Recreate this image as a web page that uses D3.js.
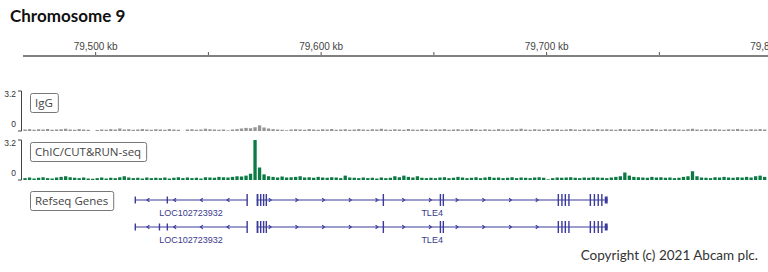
<!DOCTYPE html>
<html>
<head>
<meta charset="utf-8">
<script src="https://cdn.jsdelivr.net/npm/d3@7"></script>
<style>
  body { margin: 0; background: #fff; }
  svg { display: block; }
</style>
</head>
<body>
<div id="view"></div>
<script>
// genomic window shown (kb) and the coverage bin size
const viewStart = 79468;
const viewEnd = 79798.4;
const binKb = 2;

const majorTicks = [79500, 79600, 79700, 79800];
const minorTicks = [79550, 79650, 79750];

const trackNames = ["IgG", "ChIC/CUT&RUN-seq"];
const dataRange = [0, 3.2];

// coverage per 2 kb bin, starting at viewStart
const igg = [
  0.12,0.15,0.1,0.14,0.12,0.16,0.1,0.12,0.14,0.18,0.12,0.1,0.15,0.12,0.1,
  0,0.08,0.12,0.1,0.15,0.12,0.2,0.12,0.14,0.1,0.12,0.16,0.12,0.1,0.14,
  0.12,0.1,0.15,0.12,0.1,0,0.12,0.14,0.1,0.12,0.18,0.14,0.12,0.1,0.12,
  0.05,0.12,0.15,0.2,0.25,0.22,0.3,0.45,0.28,0.2,0.15,0.12,0.1,0.06,0.12,
  0.14,0.12,0.1,0.15,0.12,0.1,0.14,0.12,0.16,0.1,0.12,0.14,0.1,0.12,0.15,
  0.12,0.1,0.14,0.12,0.18,0.12,0.1,0.14,0.12,0.1,0.16,0.12,0.1,0.14,0.12,
  0.1,0.14,0.12,0.15,0.1,0.12,0.14,0.1,0.12,0.16,0.12,0.1,0.14,0.12,0.1,
  0.15,0.12,0.1,0.14,0.12,0.18,0.12,0.1,0.14,0.12,0.1,0.15,0.12,0.14,0.1,
  0.12,0.16,0.12,0.1,0.14,0.12,0.1,0.15,0.12,0.14,0.12,0.1,0.16,0.12,0.14,
  0.12,0.1,0.14,0.12,0.16,0.12,0.1,0.14,0.12,0.15,0.12,0.1,0.14,0.18,0.12,
  0.1,0.14,0.12,0.15,0.12,0.1,0.14,0.12,0.16,0.12,0.1,0.14,0.12,0.15,0.12
];
const chic = [
  0.15,0.2,0.12,0.18,0.22,0.15,0.12,0.2,0.25,0.3,0.22,0.18,0.15,0.2,0.12,
  0.1,0.15,0.2,0.12,0.18,0.15,0.22,0.3,0.2,0.15,0.18,0.12,0.2,0.15,0.18,
  0.15,0.2,0.12,0.18,0.22,0.15,0.2,0.15,0.18,0.12,0.22,0.2,0.18,0.25,0.22,
  0.2,0.25,0.3,0.28,0.35,0.5,3.2,1.0,0.45,0.3,0.25,0.2,0.28,0.2,0.22,
  0.25,0.3,0.2,0.22,0.18,0.25,0.2,0.18,0.22,0.2,0.15,0.35,0.2,0.18,0.15,
  0.2,0.15,0.18,0.12,0.2,0.15,0.18,0.3,0.22,0.35,0.25,0.2,0.3,0.18,0.15,
  0.18,0.15,0.2,0.22,0.15,0.18,0.25,0.2,0.15,0.18,0.22,0.15,0.2,0.25,0.18,
  0.2,0.15,0.18,0.22,0.15,0.2,0.18,0.15,0.2,0.22,0.18,0.05,0.15,0.2,0.18,
  0.2,0.22,0.18,0.15,0.2,0.18,0.22,0.2,0.18,0.15,0.2,0.25,0.3,0.6,0.35,
  0.25,0.22,0.2,0.18,0.25,0.2,0.22,0.18,0.2,0.15,0.18,0.25,0.3,0.7,0.3,
  0.2,0.18,0.15,0.22,0.2,0.25,0.2,0.18,0.22,0.2,0.25,0.2,0.3,0.35,0.25
];

// refseq transcripts: name, strand, start, end (kb), row
const transcripts = [
  ["LOC102723932", "-", 79517.6, 79567.4, 0],
  ["TLE4", "+", 79571.6, 79727.3, 0],
  ["LOC102723932", "-", 79517.6, 79567.4, 1],
  ["TLE4", "+", 79571.6, 79727.3, 1]
];
const locExons1 = [[79517.5, 79517.9, "utr"], [79531.7, 79532.0, "utr"], [79567.1, 79567.4, "cds"]];
const locExons2 = [[79517.5, 79517.9, "utr"], [79528.2, 79528.5, "utr"], [79531.7, 79532.0, "utr"], [79567.1, 79567.4, "cds"]];
const tleExons = [
  [79571.6, 79572.4, "cds"], [79573.1, 79573.4, "cds"], [79574.4, 79574.7, "cds"], [79575.6, 79575.9, "cds"],
  [79627.5, 79627.8, "cds"], [79652.8, 79653.1, "cds"], [79654.1, 79654.4, "cds"],
  [79705.1, 79705.5, "cds"], [79706.7, 79707.0, "cds"], [79708.2, 79708.5, "cds"], [79709.8, 79710.1, "cds"],
  [79719.3, 79719.6, "cds"], [79721.1, 79721.4, "cds"], [79722.8, 79723.1, "cds"], [79724.4, 79724.8, "cds"],
  [79726.0, 79727.3, "utr"]
];
const transcriptExons = [locExons1, tleExons, locExons2, tleExons];

const width = 768, height = 272;
const svg = d3.select("#view").append("svg")
    .attr("width", width)
    .attr("height", height);

svg.append("text")
    .attr("x", 10).attr("y", 22)
    .attr("font-family", "Lato, 'DejaVu Sans', sans-serif")
    .attr("font-weight", "bold")
    .attr("font-size", 17)
    .attr("fill", "#111")
    .text("Chromosome 9");

const x = d3.scaleLinear().domain([viewStart, viewEnd]).range([23, width]);

// ruler
const axisY = 56;
svg.append("line")
    .attr("x1", 23).attr("x2", width)
    .attr("y1", axisY).attr("y2", axisY)
    .attr("stroke", "#808080").attr("stroke-width", 2);

const ruler = svg.append("g")
    .attr("transform", `translate(0,${axisY - 1})`)
    .call(d3.axisTop(x)
        .tickValues(majorTicks)
        .tickSize(3).tickSizeOuter(0).tickPadding(2)
        .tickFormat(d => d3.format(",")(d) + " kb"));
ruler.select(".domain").remove();
ruler.selectAll("line").attr("stroke", "#555");
ruler.selectAll("text")
    .attr("font-family", "'Liberation Sans', Arial, sans-serif")
    .attr("font-size", 10)
    .attr("fill", "#444");

const minor = svg.append("g")
    .attr("transform", `translate(0,${axisY - 1})`)
    .call(d3.axisTop(x).tickValues(minorTicks).tickSize(3).tickSizeOuter(0).tickFormat(""));
minor.select(".domain").remove();
minor.selectAll("line").attr("stroke", "#555");

// coverage tracks
const tracks = [
  {name: trackNames[0], values: igg, top: 91, bottom: 131, color: "#959595"},
  {name: trackNames[1], values: chic, top: 140, bottom: 180, color: "#0c7a45"}
];

function labelBox(g, label, bx, cy) {
  const t = g.append("text")
      .attr("x", bx + 5).attr("y", cy)
      .attr("dy", "0.35em")
      .attr("font-family", "'Open Sans', sans-serif")
      .attr("font-size", 11.5)
      .attr("fill", "#444")
      .text(label);
  const bb = t.node().getBBox();
  g.insert("rect", "text")
      .attr("x", bx + 0.5).attr("y", cy - 9.5)
      .attr("width", bb.width + 10).attr("height", 19)
      .attr("rx", 2)
      .attr("fill", "#fff")
      .attr("stroke", "#777");
}

tracks.forEach(tr => {
  const g = svg.append("g");
  const y = d3.scaleLinear().domain(dataRange).range([tr.bottom, tr.top]);

  g.selectAll("rect.bar")
      .data(tr.values.map((v, i) => ({start: viewStart + i * binKb, v})).filter(d => d.v > 0))
      .join("rect")
      .attr("class", "bar")
      .attr("x", d => x(d.start) + 0.4)
      .attr("width", d => Math.max(0.5, x(d.start + binKb) - x(d.start) - 1.2))
      .attr("y", d => y(Math.min(d.v, dataRange[1])))
      .attr("height", d => tr.bottom - y(Math.min(d.v, dataRange[1])))
      .attr("fill", tr.color);

  // data range bracket
  g.append("path")
      .attr("d", `M18,${tr.top}H21.5V${tr.bottom}H18`)
      .attr("fill", "none")
      .attr("stroke", "#444");
  g.append("text")
      .attr("x", 16).attr("y", tr.top + 6)
      .attr("text-anchor", "end")
      .attr("font-family", "'Liberation Sans', Arial, sans-serif")
      .attr("font-size", 8.5).attr("fill", "#333")
      .text(d3.format(".1f")(dataRange[1]));
  g.append("text")
      .attr("x", 16).attr("y", tr.bottom - 4)
      .attr("text-anchor", "end")
      .attr("font-family", "'Liberation Sans', Arial, sans-serif")
      .attr("font-size", 8.5).attr("fill", "#333")
      .text(dataRange[0]);

  labelBox(g, tr.name, 30, tr.top + 12);
});

// gene track
const geneG = svg.append("g");
labelBox(geneG, "Refseq Genes", 30, 201);

const rowY = [200, 227];
const geneColor = "#3a3a9c";
const arrowStep = 26.7;

transcripts.forEach((t, ti) => {
  const [name, strand, s, e, row] = t;
  const cy = rowY[row];
  const exons = transcriptExons[ti];
  const g = geneG.append("g");

  g.append("line")
      .attr("x1", x(s)).attr("x2", x(e))
      .attr("y1", cy).attr("y2", cy)
      .attr("stroke", geneColor).attr("stroke-width", 1.2);

  // strand chevrons along introns
  const exonPx = exons.map(ex => [x(ex[0]), x(ex[1])]);
  const dir = strand === "+" ? 1 : -1;
  for (let ax = x(s) + arrowStep / 2; ax < x(e) - 3; ax += arrowStep) {
    if (exonPx.some(p => ax > p[0] - 3 && ax < p[1] + 3)) continue;
    g.append("path")
        .attr("d", `M${ax - 1.2 * dir},${cy - 1.8}L${ax + 1.2 * dir},${cy}L${ax - 1.2 * dir},${cy + 1.8}`)
        .attr("fill", "none")
        .attr("stroke", geneColor).attr("stroke-width", 1.1);
  }

  g.selectAll("rect")
      .data(exons)
      .join("rect")
      .attr("x", d => x(d[0]))
      .attr("width", d => Math.max(1.4, x(d[1]) - x(d[0])))
      .attr("y", d => cy - (d[2] === "cds" ? 6 : 3.5))
      .attr("height", d => d[2] === "cds" ? 12 : 7)
      .attr("fill", geneColor);

  g.append("text")
      .attr("x", (x(s) + x(e)) / 2)
      .attr("y", cy + 16)
      .attr("text-anchor", "middle")
      .attr("font-family", "'Liberation Sans', Arial, sans-serif")
      .attr("font-size", 9)
      .attr("fill", "#3a3a8c")
      .text(name);
});

svg.append("text")
    .attr("x", 758).attr("y", 260)
    .attr("text-anchor", "end")
    .attr("font-family", "Lato, 'DejaVu Sans', sans-serif")
    .attr("font-size", 13.5)
    .attr("fill", "#333")
    .text("Copyright (c) 2021 Abcam plc.");
</script>
</body>
</html>
